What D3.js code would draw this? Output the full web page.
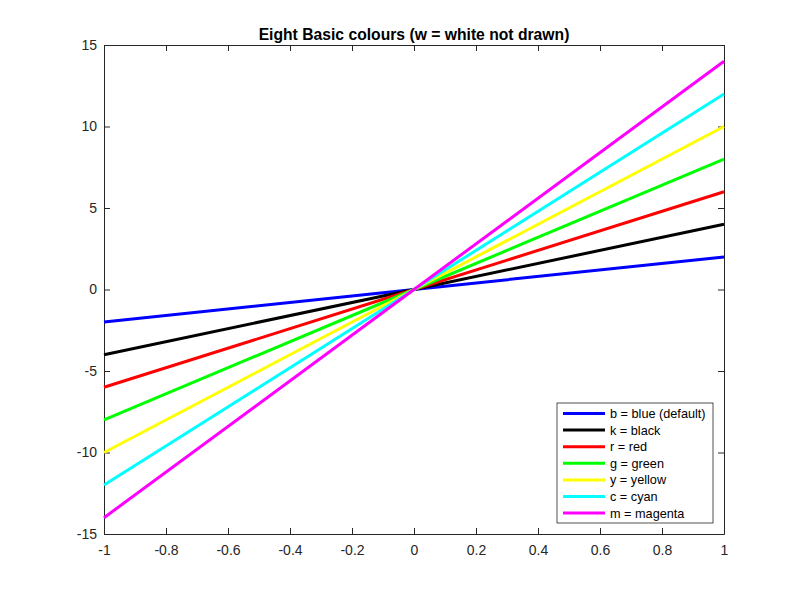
<!DOCTYPE html>
<html>
<head>
<meta charset="utf-8">
<script src="https://cdn.jsdelivr.net/npm/d3@7"></script>
<style>
  body { margin: 0; background: #fff; }
  text { font-family: "Liberation Sans", Arial, Helvetica, sans-serif; }
</style>
</head>
<body>
<div id="root"></div>
<script>
// chart data
const xValues = [-1, 0, 1];
const seriesNames = ["b = blue (default)", "k = black", "r = red", "g = green", "y = yellow", "c = cyan", "m = magenta"];
const seriesColors = ["#0000ff", "#000000", "#ff0000", "#00ff00", "#ffff00", "#00ffff", "#ff00ff"];
const seriesValues = [
  [-2, 0, 2],
  [-4, 0, 4],
  [-6, 0, 6],
  [-8, 0, 8],
  [-10, 0, 10],
  [-12, 0, 12],
  [-14, 0, 14]
];
const xTicks = [-1, -0.8, -0.6, -0.4, -0.2, 0, 0.2, 0.4, 0.6, 0.8, 1];
const yTicks = [-15, -10, -5, 0, 5, 10, 15];
const title = "Eight Basic colours (w = white not drawn)";

const width = 800, height = 600;
const margin = {left: 104, right: 76, top: 45, bottom: 66};
const axisColor = "#262626";

const svg = d3.select("#root").append("svg").attr("width", width).attr("height", height);

const x = d3.scaleLinear().domain([-1, 1]).range([margin.left, width - margin.right]);
const y = d3.scaleLinear().domain([-15, 15]).range([height - margin.bottom, margin.top]);

const fmt = d => d3.format("")(d).replace("−", "-");

// axes, ticks pointing inward on all four sides
const axes = [
  {ax: d3.axisBottom(x).tickValues(xTicks).tickFormat(fmt), tr: `translate(0,${height - margin.bottom})`, labels: true, pad: 11},
  {ax: d3.axisTop(x).tickValues(xTicks), tr: `translate(0,${margin.top})`, labels: false, pad: 3},
  {ax: d3.axisLeft(y).tickValues(yTicks).tickFormat(fmt), tr: `translate(${margin.left},0)`, labels: true, pad: 7},
  {ax: d3.axisRight(y).tickValues(yTicks), tr: `translate(${width - margin.right},0)`, labels: false, pad: 3}
];
axes.forEach(a => {
  a.ax.tickSizeInner(-6).tickSizeOuter(0).tickPadding(a.pad);
  const g = svg.append("g").attr("transform", a.tr).call(a.ax);
  g.select(".domain").attr("stroke", axisColor).attr("stroke-width", 1);
  g.selectAll(".tick line").attr("stroke", axisColor);
  g.selectAll(".tick text").attr("fill", axisColor).style("font-size", "14px");
  if (!a.labels) g.selectAll(".tick text").remove();
});

const line = d3.line().x((d, i) => x(xValues[i])).y(d => y(d));

svg.append("g").selectAll("path")
  .data(seriesValues)
  .enter().append("path")
  .attr("d", line)
  .attr("fill", "none")
  .attr("stroke", (d, i) => seriesColors[i])
  .attr("stroke-width", 3);

svg.append("text")
  .attr("x", (margin.left + width - margin.right) / 2)
  .attr("y", 40)
  .attr("text-anchor", "middle")
  .style("font-size", "15.7px")
  .style("font-weight", "bold")
  .attr("fill", "#000")
  .text(title);

// legend box in the lower right corner
const legend = svg.append("g").attr("transform", "translate(557,403)");
legend.append("rect")
  .attr("width", 156).attr("height", 120)
  .attr("fill", "#fff").attr("stroke", axisColor).attr("stroke-width", 0.8);
const row = legend.selectAll(".row")
  .data(seriesNames)
  .enter().append("g")
  .attr("class", "row")
  .attr("transform", (d, i) => `translate(0,${10.5 + i * 16.6})`);
row.append("line")
  .attr("x1", 6).attr("x2", 48)
  .attr("stroke", (d, i) => seriesColors[i])
  .attr("stroke-width", 3);
row.append("text")
  .attr("x", 53).attr("dy", "0.35em")
  .style("font-size", "12.7px")
  .attr("fill", "#000")
  .text(d => d);
</script>
</body>
</html>
